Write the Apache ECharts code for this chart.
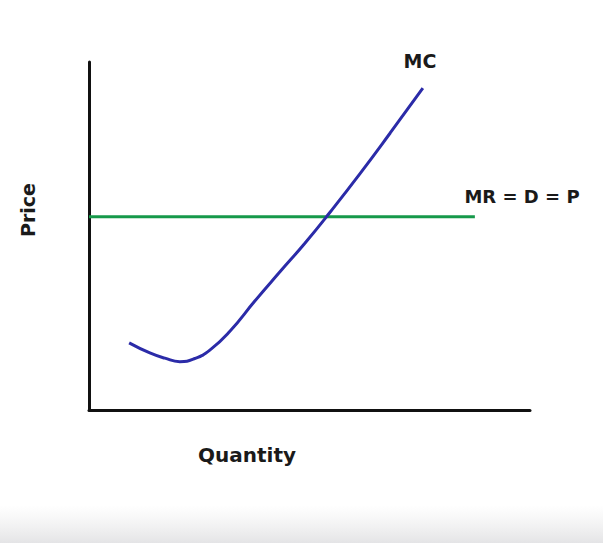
<!DOCTYPE html>
<html>
<head>
<meta charset="utf-8">
<script src="https://cdn.jsdelivr.net/npm/echarts@6/dist/echarts.min.js"></script>
<style>
html,body{margin:0;padding:0;background:#fff;}
#chart{width:603px;height:543px;}
</style>
</head>
<body>
<div id="chart"></div>
<script>
// Quantity positions (axis 0..100) and marginal cost values (axis 0..100)
var mcQuantity = [9.1, 13.8, 17.2, 20.6, 24.0, 27.4, 32.0, 37.6, 43.3, 49.0, 54.7, 61.5, 68.3, 75.7];
var mcValues   = [19.3, 16.4, 14.9, 13.9, 14.8, 17.2, 22.7, 31.3, 39.7, 48.0, 56.9, 68.0, 79.6, 92.5];
// Horizontal MR = D = P line
var mrQuantity = [0, 87.5];
var mrValues   = [55.5, 55.5];
// Text labels
var xAxisTitle = 'Quantity';
var yAxisTitle = 'Price';
var mcLabel = 'MC';
var mrLabel = 'MR = D = P';

var mcData = mcQuantity.map(function (q, i) { return [q, mcValues[i]]; });
var mrData = mrQuantity.map(function (q, i) { return [q, mrValues[i]]; });

var chart = echarts.init(document.getElementById('chart'), null, {renderer: 'svg'});
var font = 'DejaVu Sans';
chart.setOption({
  backgroundColor: '#ffffff',
  animation: false,
  grid: {left: 89, top: 62, width: 441, height: 348},
  xAxis: {
    type: 'value', min: 0, max: 100,
    axisLine: {show: true, onZero: false, lineStyle: {color: '#111', width: 3}},
    axisTick: {show: false}, axisLabel: {show: false}, splitLine: {show: false}
  },
  yAxis: {
    type: 'value', min: 0, max: 100,
    axisLine: {show: true, onZero: false, lineStyle: {color: '#111', width: 3}},
    axisTick: {show: false}, axisLabel: {show: false}, splitLine: {show: false}
  },
  graphic: [
    {
      type: 'rect', silent: true, z: -10,
      shape: {x: 0, y: 505, width: 603, height: 38},
      style: {
        fill: new echarts.graphic.LinearGradient(0, 0, 0, 1, [
          {offset: 0, color: 'rgba(235,235,235,0)'},
          {offset: 1, color: 'rgba(228,228,230,1)'}
        ])
      }
    },
    {
      type: 'text', left: 198, top: 445,
      style: {text: xAxisTitle, font: 'bold 20px ' + font, fill: '#1a1a1a'}
    },
    {
      type: 'text', x: 28, y: 210, rotation: Math.PI / 2,
      style: {text: yAxisTitle, font: 'bold 19px ' + font, fill: '#1a1a1a', align: 'center', verticalAlign: 'middle'}
    },
    {
      type: 'text', x: 420, y: 61,
      style: {text: mcLabel, font: 'bold 19px ' + font, fill: '#1a1a1a', align: 'center', verticalAlign: 'middle'}
    },
    {
      type: 'text', x: 522, y: 196,
      style: {text: mrLabel, font: 'bold 18px ' + font, fill: '#1a1a1a', align: 'center', verticalAlign: 'middle'}
    }
  ],
  series: [
    {
      name: 'MR', type: 'line', data: mrData, symbol: 'none',
      lineStyle: {color: '#16994a', width: 3}
    },
    {
      name: 'MC', type: 'line', data: mcData, symbol: 'none',
      smooth: 0.5,
      lineStyle: {color: '#2b2ba8', width: 3}
    }
  ]
});
</script>
</body>
</html>
